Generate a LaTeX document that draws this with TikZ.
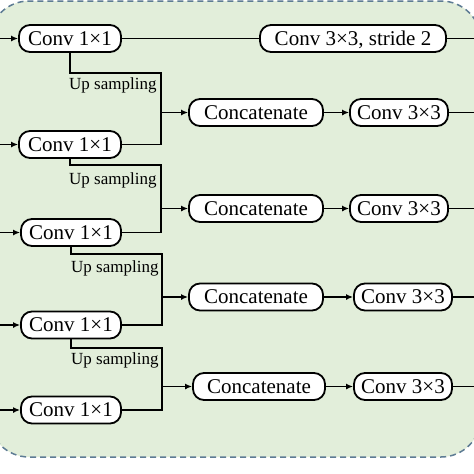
\documentclass[tikz,border=0pt]{standalone}
\usepackage{fontspec}
\setmainfont{Liberation Serif}
\usetikzlibrary{arrows.meta}
\definecolor{bgGreen}{HTML}{E2EEDA}
\definecolor{bdBlue}{HTML}{5E7C94}
\begin{document}
\begin{tikzpicture}[x=1pt,y=-1pt,
  box/.style={draw=black, line width=1.8pt, fill=white, rounded corners=11pt,
    minimum height=27pt, inner sep=0pt, text height=13.9pt, text depth=0pt,
    font=\fontsize{21}{24}\selectfont},
  conn/.style={line width=1.4pt},
  arr/.style={conn, -{Latex[length=7pt,width=6pt]}},
  lbl/.style={font=\fontsize{17}{20}\selectfont, inner sep=0pt, anchor=base west}]
\useasboundingbox (0,0) rectangle (474,474);
\fill[white] (0,0) rectangle (474,474);
\draw[fill=bgGreen, draw=bdBlue, dash pattern=on 6pt off 4pt, line width=1.5pt, rounded corners=40pt] (-11,1) rectangle (481,457);

% nodes
\node[box, minimum width=102pt] (c1a) at (70,38.5) {Conv 1×1};
\node[box, minimum width=186pt] (c3s) at (353,38.5) {Conv 3×3, stride 2};

\node[box, minimum width=134pt] (cat1) at (256,112.5) {Concatenate};
\node[box, minimum width=98pt] (c3a) at (399,112.5) {Conv 3×3};
\node[box, minimum width=102pt] (c1b) at (70,144.5) {Conv 1×1};

\node[box, minimum width=134pt] (cat2) at (256,208.5) {Concatenate};
\node[box, minimum width=98pt] (c3b) at (399,208.5) {Conv 3×3};
\node[box, minimum width=100pt] (c1c) at (71,232.5) {Conv 1×1};

\node[box, minimum width=134pt] (cat3) at (256,297) {Concatenate};
\node[box, minimum width=98pt] (c3c) at (403,297) {Conv 3×3};
\node[box, minimum width=100pt] (c1d) at (71,325) {Conv 1×1};

\node[box, minimum width=132pt] (cat4) at (259,386.5) {Concatenate};
\node[box, minimum width=98pt] (c3d) at (403,386.5) {Conv 3×3};
\node[box, minimum width=100pt] (c1e) at (71,410) {Conv 1×1};

% labels
\node[lbl] (ua) at (69,89.3) {Up sampling};
\node[lbl] (ub) at (69,184) {Up sampling};
\node[lbl] (uc) at (71,272.3) {Up sampling};
\node[lbl] (ud) at (71,364.3) {Up sampling};

% input coordinates
\coordinate (ina) at (0,38.5);
\coordinate (inb) at (0,144.5);
\coordinate (inc) at (0,232.5);
\coordinate (ind) at (0,325);
\coordinate (ine) at (0,410);
\draw[arr] (ina) -- (c1a);
\draw[arr] (inb) -- (c1b);
\draw[arr] (inc) -- (c1c);
\draw[arr] (ind) -- (c1d);
\draw[arr] (ine) -- (c1e);

% outputs
\coordinate (outs) at (474,38.5);
\coordinate (outa) at (474,112.5);
\coordinate (outb) at (474,208.5);
\coordinate (outc) at (474,297);
\coordinate (outd) at (474,386.5);
\draw[conn] (c1a) -- (c3s);
\draw[conn] (c3s) -- (outs);
\draw[conn] (c3a) -- (outa);
\draw[conn] (c3b) -- (outb);
\draw[conn] (c3c) -- (outc);
\draw[conn] (c3d) -- (outd);

% junctions
\coordinate (ja) at (161,73);
\coordinate (jb) at (161,165);
\coordinate (jc) at (162,254);
\coordinate (jd) at (162,348);

\draw[conn] (c1a.south) |- (ja) -- (ja |- c1b.east) -- (c1b.east);
\draw[conn] (c1b.south) |- (jb) -- (jb |- c1c.east) -- (c1c.east);
\draw[conn] (c1c.south) |- (jc) -- (jc |- c1d.east) -- (c1d.east);
\draw[conn] (c1d.south) |- (jd) -- (jd |- c1e.east) -- (c1e.east);

\draw[arr] (ja |- cat1) -- (cat1);
\draw[arr] (jb |- cat2) -- (cat2);
\draw[arr] (jc |- cat3) -- (cat3);
\draw[arr] (jd |- cat4) -- (cat4);

\draw[arr] (cat1) -- (c3a);
\draw[arr] (cat2) -- (c3b);
\draw[arr] (cat3) -- (c3c);
\draw[arr] (cat4) -- (c3d);
\end{tikzpicture}
\end{document}
